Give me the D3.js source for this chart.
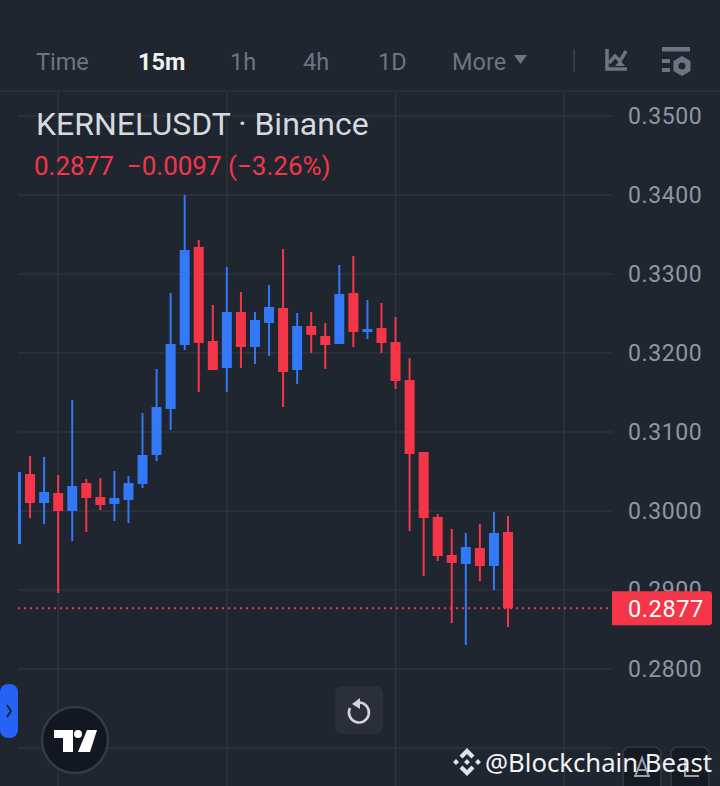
<!DOCTYPE html>
<html>
<head>
<meta charset="utf-8">
<script src="https://d3js.org/d3.v7.min.js"></script>
<style>
html, body { margin: 0; padding: 0; background: #1f2630; overflow: hidden; }
text { font-family: Roboto, sans-serif; }
</style>
</head>
<body>
<div class="chart"></div>
<script>
var width = 720,
  height = 786

var up = '#3278f7',
  down = '#f53649',
  gridColor = '#2e343e'

var highs = [0.30494,0.30696,0.30684,0.30456,0.31405,0.30405,0.30418,0.30506,0.30443,0.31240,0.31797,0.32759,0.34000,0.33430,0.32608,0.33089,0.32772,0.32519,0.32861,0.33316,0.32506,0.32519,0.32380,0.33114,0.33228,0.32671,0.32633,0.32456,0.31937,0.30747,0.29962,0.29772,0.29722,0.29835,0.29987,0.29937]
var opens = [0.29582,0.30468,0.30101,0.30228,0.30000,0.30354,0.30177,0.30089,0.30139,0.30342,0.30709,0.31291,0.32101,0.33342,0.32152,0.31810,0.32519,0.32076,0.32380,0.32570,0.31785,0.32342,0.32215,0.32114,0.32759,0.32266,0.32316,0.32139,0.31658,0.30747,0.29924,0.29443,0.29329,0.29532,0.29304,0.29734]
var closes = [0.30494,0.30101,0.30241,0.30000,0.30316,0.30165,0.30076,0.30165,0.30354,0.30709,0.31316,0.32114,0.33304,0.32127,0.31785,0.32519,0.32076,0.32418,0.32582,0.31759,0.32342,0.32228,0.32101,0.32747,0.32266,0.32304,0.32127,0.31646,0.30722,0.29911,0.29430,0.29342,0.29544,0.29304,0.29722,0.28770]
var lows = [0.29582,0.29911,0.29835,0.28962,0.29620,0.29734,0.30013,0.29873,0.29848,0.30291,0.30633,0.31025,0.32038,0.31506,0.31785,0.31506,0.31810,0.31861,0.31962,0.31316,0.31608,0.32000,0.31797,0.32114,0.32076,0.32177,0.32000,0.31544,0.29747,0.29177,0.29367,0.28582,0.28304,0.29114,0.29000,0.28532]

var priceTicks = [0.35,0.34,0.33,0.32,0.31,0.30,0.29,0.28,0.27]
var timeGrid = [3,15,27,39]
var intervals = ['Time','15m','1h','4h','1D','More']
var lastPrice = 0.2877

var candles = opens.map(function(d, i) {
  return {i: i, open: d, close: closes[i], high: highs[i], low: lows[i]}
})

var svg = d3.select('.chart')
  .append('svg')
  .attr('width', width)
  .attr('height', height)
  .style('display', 'block')

svg.append('rect').attr('width', width).attr('height', height).attr('fill', '#1f2630')

// SCALES
var xScale = d3.scaleLinear().domain([0, 35]).range([16, 508])
var yScale = d3.scaleLinear().domain([0.30, 0.28]).range([511, 669])

svg.append('clipPath').attr('id', 'plot')
  .append('rect').attr('x', 18).attr('y', 92).attr('width', 594).attr('height', 694)

// GRID
svg.append('line').attr('x1', 0).attr('x2', width).attr('y1', 91).attr('y2', 91)
  .attr('stroke', '#282e38').attr('stroke-width', 2)

svg.selectAll('.hgrid')
  .data(priceTicks)
  .enter()
  .append('line')
  .attr('class', 'hgrid')
  .attr('x1', 18).attr('x2', 612)
  .attr('y1', function(d) { return yScale(d) })
  .attr('y2', function(d) { return yScale(d) })
  .attr('stroke', gridColor)
  .attr('stroke-width', 1.5)

svg.selectAll('.vgrid')
  .data(timeGrid)
  .enter()
  .append('line')
  .attr('class', 'vgrid')
  .attr('x1', function(d) { return xScale(d) })
  .attr('x2', function(d) { return xScale(d) })
  .attr('y1', 92).attr('y2', height)
  .attr('stroke', gridColor)
  .attr('stroke-width', 1.5)

// AXIS
var axis = d3.axisRight(yScale)
  .tickValues(priceTicks.filter(function(d) { return d > 0.275 }))
  .tickFormat(d3.format('.4f'))
  .tickSize(0)
  .tickPadding(0)

var axisG = svg.append('g')
  .attr('transform', 'translate(628,0)')
  .call(axis)
axisG.select('.domain').remove()
axisG.selectAll('text')
  .attr('fill', '#8f96a3')
  .style('font-size', '23px')
  .style('font-family', 'Roboto, sans-serif')
  .style('letter-spacing', '0.6px')

// CANDLES
var plot = svg.append('g').attr('clip-path', 'url(#plot)')

plot.selectAll('.wick')
  .data(candles)
  .enter()
  .append('line')
  .attr('class', 'wick')
  .attr('x1', function(d) { return xScale(d.i) })
  .attr('x2', function(d) { return xScale(d.i) })
  .attr('y1', function(d) { return yScale(d.high) })
  .attr('y2', function(d) { return yScale(d.low) })
  .attr('stroke', function(d) { return d.close >= d.open ? up : down })
  .attr('stroke-width', 2)

plot.selectAll('.body')
  .data(candles)
  .enter()
  .append('rect')
  .attr('class', 'body')
  .attr('x', function(d) { return xScale(d.i) - 5 })
  .attr('width', 10)
  .attr('y', function(d) { return yScale(Math.max(d.open, d.close)) })
  .attr('height', function(d) { return Math.abs(yScale(d.open) - yScale(d.close)) })
  .attr('fill', function(d) { return d.close >= d.open ? up : down })

// last price line and tag
svg.append('line')
  .attr('x1', 18).attr('x2', 612)
  .attr('y1', yScale(lastPrice)).attr('y2', yScale(lastPrice))
  .attr('stroke', down)
  .attr('stroke-width', 2)
  .attr('stroke-dasharray', '2 4')

svg.append('path')
  .attr('d', 'M612,' + (yScale(lastPrice) - 17) + 'h97a3,3 0 0 1 3,3v28a3,3 0 0 1 -3,3h-97z')
  .attr('fill', down)
svg.append('text')
  .attr('x', 628).attr('y', yScale(lastPrice) + 8.5)
  .attr('fill', '#fff')
  .style('font-size', '23.5px')
  .style('letter-spacing', '0.6px')
  .text(d3.format('.4f')(lastPrice))

// HEADER
var intervalX = [36,138,230,303,378,452]
svg.selectAll('.interval')
  .data(intervals)
  .enter()
  .append('text')
  .attr('class', 'interval')
  .attr('x', function(d, i) { return intervalX[i] })
  .attr('y', 70)
  .attr('fill', function(d) { return d == '15m' ? '#f0f2f5' : '#6d7582' })
  .style('font-size', '23.5px')
  .style('font-weight', function(d) { return d == '15m' ? 700 : 400 })
  .text(function(d) { return d })

svg.append('path').attr('d', 'M514,55h13l-6.5,9z').attr('fill', '#6d7582')
svg.append('line').attr('x1', 574).attr('x2', 574).attr('y1', 49).attr('y2', 72)
  .attr('stroke', '#3c434e').attr('stroke-width', 1.5)

// header icons
svg.append('path')
  .attr('d', 'M607,49v20h20M609,63l6,-7l5,5l6,-10')
  .attr('fill', 'none').attr('stroke', '#6d7582').attr('stroke-width', 3.5)
svg.append('path').attr('d', 'M620,60l5,6h-10z').attr('fill', '#6d7582')
svg.append('rect').attr('x', 662).attr('y', 47).attr('width', 28).attr('height', 4.5).attr('fill', '#6d7582')
svg.append('rect').attr('x', 662).attr('y', 59).attr('width', 8).attr('height', 4).attr('fill', '#6d7582')
svg.append('rect').attr('x', 662).attr('y', 68).attr('width', 8).attr('height', 4).attr('fill', '#6d7582')
svg.append('path').attr('d', 'M682,56l8.5,5v10l-8.5,5l-8.5,-5v-10z').attr('fill', '#6d7582')
svg.append('circle').attr('cx', 682).attr('cy', 66).attr('r', 3.5).attr('fill', '#1f2630')

svg.append('text')
  .attr('x', 36).attr('y', 135)
  .attr('fill', '#d6d9df')
  .style('font-size', '32px')
  .text('KERNELUSDT · Binance')

svg.append('text')
  .attr('x', 34).attr('y', 175)
  .attr('fill', down)
  .style('font-size', '26px')
  .attr('xml:space', 'preserve')
  .text('0.2877  −0.0097 (−3.26%)')

// side handle
svg.append('rect').attr('x', 0).attr('y', 684).attr('width', 18).attr('height', 54).attr('rx', 8)
  .attr('fill', '#2563f5')
svg.append('path').attr('d', 'M7,705l4,6l-4,6').attr('fill', 'none').attr('stroke', '#131722').attr('stroke-width', 1.6)

// tradingview logo
svg.append('circle').attr('cx', 75).attr('cy', 740).attr('r', 33)
  .attr('fill', '#131722').attr('stroke', '#363a45').attr('stroke-width', 2.5)
svg.append('path').attr('d', 'M54,730h19v22h-10v-14h-9z').attr('fill', '#fff')
svg.append('path').attr('d', 'M87,730h10l-7,22h-12z').attr('fill', '#fff')
svg.append('circle').attr('cx', 78).attr('cy', 734).attr('r', 4).attr('fill', '#fff')

// reset button
svg.append('rect').attr('x', 335).attr('y', 686).attr('width', 48).attr('height', 48).attr('rx', 7)
  .attr('fill', '#2b2f39')
svg.append('path').attr('d', 'M359,702.5A10,10 0 1 1 350,708').attr('fill', 'none').attr('stroke', '#d1d4dc').attr('stroke-width', 2.6)
svg.append('path').attr('d', 'M360,698v11l-8,-5z').attr('fill', '#d1d4dc')

// bottom right buttons
var btnX = [623,671]
svg.selectAll('.btn')
  .data(btnX)
  .enter()
  .append('rect')
  .attr('class', 'btn')
  .attr('x', function(d) { return d })
  .attr('y', 747)
  .attr('width', 38)
  .attr('height', 50)
  .attr('rx', 7)
  .attr('fill', '#151a23')
  .attr('stroke', '#363a45')
  .attr('stroke-width', 1.5)
svg.append('path').attr('d', 'M635,777l7,-19l7,19M638,770h8M634,776h16').attr('fill', 'none').attr('stroke', '#9aa0ab').attr('stroke-width', 2)
svg.append('path').attr('d', 'M685,758v18h14').attr('fill', 'none').attr('stroke', '#9aa0ab').attr('stroke-width', 2)

// watermark
var wm = svg.append('g').attr('transform', 'translate(467,762)')
wm.append('path').attr('d', 'M0,-14l7.5,7.5l-3,3l-4.5,-4.5l-4.5,4.5l-3,-3z').attr('fill', '#e0e2e7')
wm.append('path').attr('d', 'M0,14l7.5,-7.5l-3,-3l-4.5,4.5l-4.5,-4.5l-3,3z').attr('fill', '#e0e2e7')
wm.append('path').attr('d', 'M-14,0l3,-3l3,3l-3,3zM14,0l-3,-3l-3,3l3,3zM0,-3l3,3l-3,3l-3,-3z').attr('fill', '#e0e2e7')

svg.append('text')
  .attr('x', 485).attr('y', 772)
  .attr('fill', '#f2f3f5')
  .style('font-family', '"Noto Sans", sans-serif')
  .style('font-size', '25.7px')
  .text('@Blockchain Beast')
</script>
</body>
</html>
